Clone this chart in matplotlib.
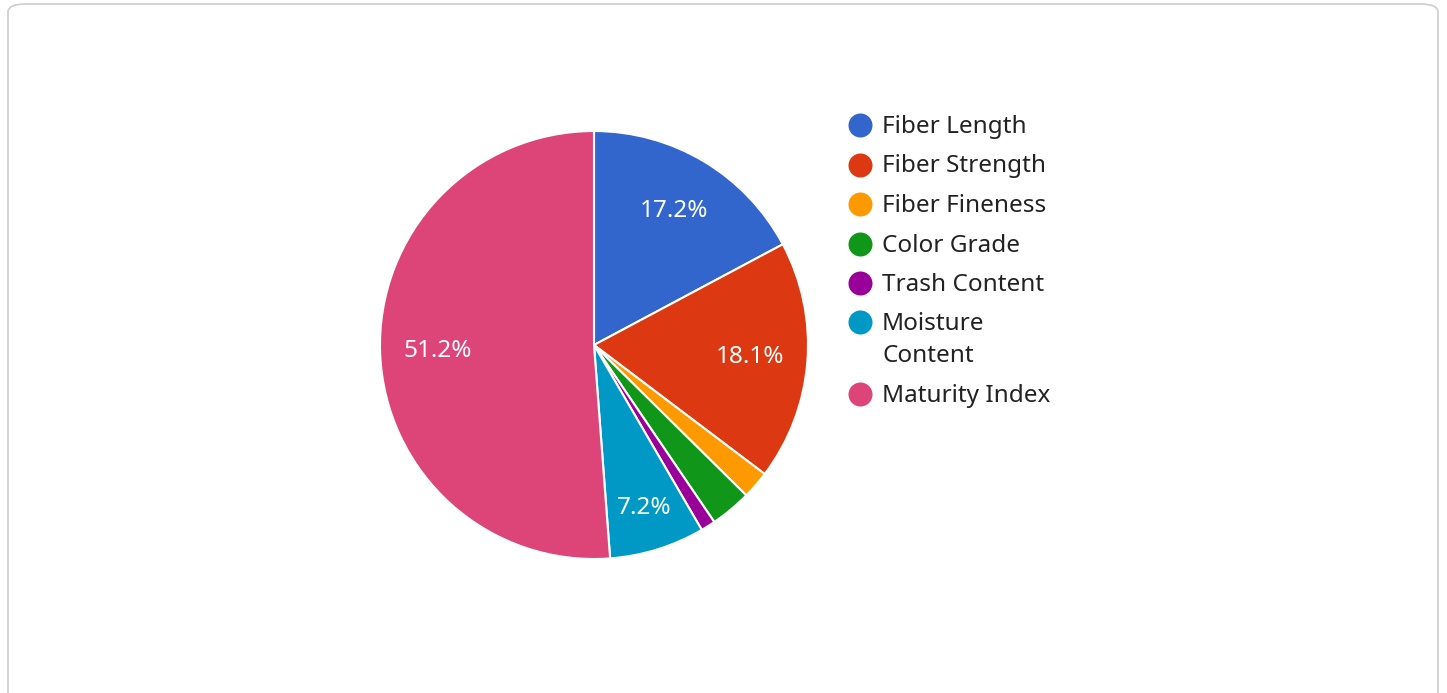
import matplotlib
matplotlib.use("Agg")
import matplotlib.pyplot as plt
from matplotlib.patches import FancyBboxPatch
from matplotlib.lines import Line2D

labels = ["Fiber Length", "Fiber Strength", "Fiber Fineness", "Color Grade",
          "Trash Content", "Moisture\nContent", "Maturity Index"]
values = [17.2, 18.1, 2.1, 3.1, 1.1, 7.2, 51.2]
colors = ["#3366cc", "#dc3912", "#ff9900", "#109618", "#990099", "#0099c6", "#dd4477"]

plt.rcParams["font.family"] = ["Noto Sans", "DejaVu Sans"]

W, H = 1447, 693
fig = plt.figure(figsize=(W / 100, H / 100), dpi=100)

# card border (top at 4px, bottom edge runs off the image)
fig.patches.append(FancyBboxPatch((8 / W, (H - 4 - 760) / H), 1430 / W, 760 / H,
                                  boxstyle="round,pad=0,rounding_size=0.012",
                                  transform=fig.transFigure, facecolor="none",
                                  edgecolor="#d0d0d0", linewidth=1.3))

cx, cy, r = 594, 345, 214
ax = fig.add_axes([(cx - r) / W, (H - cy - r) / H, 2 * r / W, 2 * r / H])
wedges, texts, autotexts = ax.pie(
    values, colors=colors, startangle=90, counterclock=False, radius=1,
    autopct=lambda p: f"{p:.1f}%" if p > 5 else "", pctdistance=0.73,
    wedgeprops=dict(edgecolor="white", linewidth=1.5),
    textprops=dict(color="white", fontsize=17.5))
# Moisture label sits a little further out in the reference
autotexts[5].set_position((autotexts[5].get_position()[0] * 1.09,
                           autotexts[5].get_position()[1] * 1.09))
ax.set_xlim(-1, 1)
ax.set_ylim(-1, 1)
ax.set_aspect("equal")
ax.axis("off")

# legend
lx, ly = 860, 125
row, line = 39.5, 32
y = ly
for lab, col in zip(labels, colors):
    fig.add_artist(Line2D([lx / W], [(H - y) / H], marker="o", markersize=17.3,
                          markerfacecolor=col, markeredgecolor="none", linestyle="none",
                          transform=fig.transFigure))
    parts = lab.split("\n")
    for k, p in enumerate(parts):
        fig.text(882 / W, (H - y - 2 - k * line) / H, p, fontsize=17.5, color="#222222",
                 va="center", ha="left")
    y += row + (len(parts) - 1) * line

fig.savefig("out.png", dpi=100)
